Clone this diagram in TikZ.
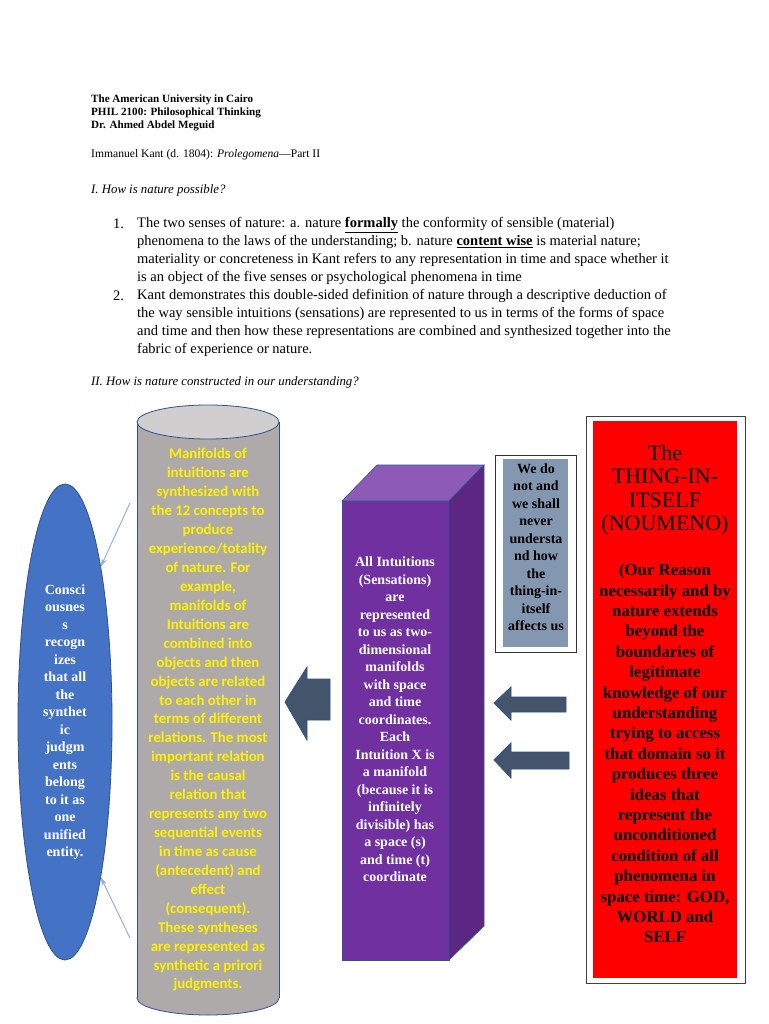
\documentclass[tikz,border=0pt]{standalone}
\usepackage{fontspec}
\setmainfont{Liberation Serif}
\newfontfamily\calibri{Carlito}
\usetikzlibrary{shapes.geometric, arrows.meta, positioning}
\definecolor{EllipseBlue}{RGB}{68, 114, 196}
\definecolor{EdgeBlue}{RGB}{47, 82, 143}
\definecolor{CylGray}{RGB}{174, 170, 170}
\definecolor{CylTop}{RGB}{208, 206, 206}
\definecolor{Slate}{RGB}{68, 84, 106}
\definecolor{PurpleFront}{RGB}{112, 48, 160}
\definecolor{PurpleTop}{RGB}{141, 91, 181}
\definecolor{PurpleSide}{RGB}{91, 39, 131}
\definecolor{BoxGray}{RGB}{132, 151, 176}
\definecolor{PaleBlue}{RGB}{143, 170, 220}

\begin{document}
\begin{tikzpicture}[x=1pt, y=-1pt,
    headtext/.style={anchor=west, inner sep=0, align=left},
    blocktext/.style={inner sep=0, align=center},
    blockarrow/.style={fill=Slate, draw=EdgeBlue, line width=0.8pt},
    thinarrow/.style={draw=PaleBlue, line width=0.9pt, -{Stealth[length=8pt, width=5pt]}}]
    \useasboundingbox[fill=white] (0,0) rectangle (768,1024);

    % Header
    \node[headtext, font=\fontsize{11.1}{13}\selectfont\bfseries] (course) at (91,113)
      {The American University in Cairo\\PHIL 2100: Philosophical Thinking\\Dr. Ahmed Abdel Meguid};
    \node[headtext, font=\fontsize{11.6}{14}\selectfont] (kant) at (91,155)
      {Immanuel Kant (d. 1804): \textit{Prolegomena}---Part II};
    \node[headtext, font=\fontsize{12.8}{14}\selectfont\itshape] (partone) at (91,190)
      {I. How is nature possible?};

    % Numbered points
    \node[headtext, font=\fontsize{14.5}{18}\selectfont] (numone) at (113,224) {1.};
    \node[headtext, font=\fontsize{14.5}{18}\selectfont] (itemone) at (137,251)
      {The two senses of nature: a. nature \underline{\textbf{formally}} the conformity of sensible (material)\\
       phenomena to the laws of the understanding; b. nature \underline{\textbf{content wise}} is material nature;\\
       materiality or concreteness in Kant refers to any representation in time and space whether it\\
       is an object of the five senses or psychological phenomena in time};
    \node[headtext, font=\fontsize{14.5}{18}\selectfont] (numtwo) at (113,296) {2.};
    \node[headtext, font=\fontsize{14.5}{18}\selectfont] (itemtwo) at (137,323)
      {Kant demonstrates this double-sided definition of nature through a descriptive deduction of\\
       the way sensible intuitions (sensations) are represented to us in terms of the forms of space\\
       and time and then how these representations are combined and synthesized together into the\\
       fabric of experience or nature.};
    \node[headtext, font=\fontsize{12.8}{14}\selectfont\itshape] (parttwo) at (91,382)
      {II. How is nature constructed in our understanding?};

    % Consciousness
    \node[ellipse, fill=EllipseBlue, draw=EdgeBlue, line width=0.8pt, minimum width=94pt,
      minimum height=476pt, blocktext, text=white, font=\fontsize{14}{17.5}\selectfont\bfseries]
      (consc) at (65,722)
      {Consci\\ousnes\\s\\recogn\\izes\\that all\\the\\synthet\\ic\\judgm\\ents\\belong\\to it as\\one\\unified\\entity.};

    % Cylinder
    \filldraw[fill=CylGray, draw=EdgeBlue, line width=0.8pt] (208,998) ellipse (71 and 17);
    \fill[CylGray] (137,422) rectangle (279,998);
    \draw[EdgeBlue, line width=0.8pt] (137,422) -- (137,998) (279,422) -- (279,998);
    \filldraw[fill=CylTop, draw=EdgeBlue, line width=0.8pt] (208,422) ellipse (71 and 17);
    \node[blocktext, text=yellow, font=\calibri\bfseries\fontsize{14.8}{18.93}\selectfont] (synth) at (208,720)
      {Manifolds of\\intuitions are\\synthesized with\\the 12 concepts to\\produce\\experience/totality\\of nature. For\\example,\\manifolds of\\Intuitions are\\combined into\\objects and then\\objects are related\\to each other in\\terms of different\\relations. The most\\important relation\\is the causal\\relation that\\represents any two\\sequential events\\in time as cause\\(antecedent) and\\effect\\(consequent).\\These syntheses\\are represented as\\synthetic a prirori\\judgments.};

    % Arrows into consciousness
    \coordinate (synthtop) at (130,503);
    \coordinate (synthbottom) at (130,938);
    \draw[thinarrow] (synthtop) -- (consc.77);
    \draw[thinarrow] (synthbottom) -- (consc.-77);

    % Big arrow
    \filldraw[blockarrow] (330,679) -- (307,679) -- (307,667) -- (285,702) -- (307,740)
      -- (307,720) -- (330,720) -- cycle;

    % Cuboid
    \filldraw[fill=PurpleFront, draw=EdgeBlue, line width=0.6pt] (342,501) rectangle (449,960);
    \filldraw[fill=PurpleTop, draw=EdgeBlue, line width=0.6pt] (342,501) -- (377,465) -- (484,465)
      -- (449,501) -- cycle;
    \filldraw[fill=PurpleSide, draw=EdgeBlue, line width=0.6pt] (449,501) -- (484,465) -- (484,926)
      -- (449,960) -- cycle;
    \node[blocktext, text=white, font=\fontsize{14}{17.5}\selectfont\bfseries] (intuitions) at (395,719.5)
      {All Intuitions\\(Sensations)\\are\\represented\\to us as two-\\dimensional\\manifolds\\with space\\and time\\coordinates.\\Each\\Intuition X is\\a manifold\\(because it is\\infinitely\\divisible) has\\a space (s)\\and time (t)\\coordinate};

    % Small box
    \draw[black!80, line width=0.8pt] (495,455) rectangle (576,652);
    \fill[BoxGray] (503,459) rectangle (568,647);
    \node[blocktext, font=\fontsize{14}{17.5}\selectfont\bfseries] (unknown) at (536,547)
      {We do\\not and\\we shall\\never\\understa\\nd how\\the\\thing-in-\\itself\\affects us};

    % Small arrows
    \filldraw[blockarrow] (566,697) -- (511,697) -- (511,687) -- (494,703) -- (511,720)
      -- (511,712) -- (566,712) -- cycle;
    \filldraw[blockarrow] (569,752) -- (511,752) -- (511,743) -- (494,760) -- (511,778)
      -- (511,769) -- (569,769) -- cycle;

    % Red box
    \draw[black!75, line width=0.8pt] (586,416) rectangle (745,983);
    \fill[red] (593,421) rectangle (737,978);
    \node[blocktext, font=\fontsize{22}{23.5}\selectfont] (thing) at (665,490)
      {The\\THING-IN-\\ITSELF\\(NOUMENO)};
    \node[blocktext, font=\fontsize{16.8}{20.4}\selectfont\bfseries] (reason) at (665,753.5)
      {(Our Reason\\necessarily and by\\nature extends\\beyond the\\boundaries of\\legitimate\\knowledge of our\\understanding\\trying to access\\that domain so it\\produces three\\ideas that\\represent the\\unconditioned\\condition of all\\phenomena in\\space time: GOD,\\WORLD and\\SELF};
\end{tikzpicture}
\end{document}
